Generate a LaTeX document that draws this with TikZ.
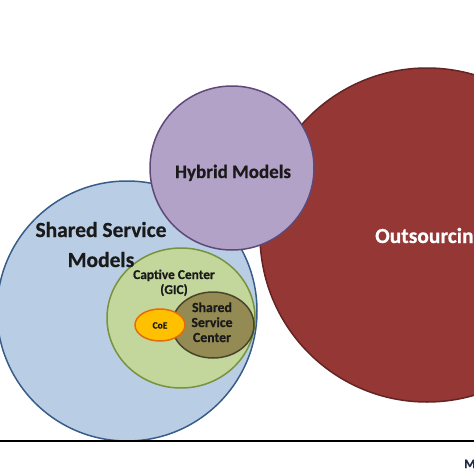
\documentclass[tikz,border=0pt]{standalone}
\usepackage{fontspec}
\setmainfont{Carlito}[BoldFeatures={FakeBold=0.6}]
\definecolor{bluefill}{HTML}{B9CDE5}
\definecolor{blueline}{HTML}{385D8A}
\definecolor{purplefill}{HTML}{B3A2C7}
\definecolor{purpleline}{HTML}{5F497A}
\definecolor{redfill}{HTML}{953735}
\definecolor{redline}{HTML}{632523}
\definecolor{greenfill}{HTML}{C3D69B}
\definecolor{greenline}{HTML}{77933C}
\definecolor{olivefill}{HTML}{948A54}
\definecolor{oliveline}{HTML}{4A452A}
\definecolor{coefill}{HTML}{FFC000}
\definecolor{coeline}{HTML}{E46C0A}
\definecolor{txt}{HTML}{1A1A1A}
\definecolor{navytxt}{HTML}{1F2A44}
\tikzset{
  blob/.style={line width=1.5pt},
  lbl/.style={font=\bfseries, text=txt, align=center, inner sep=0pt},
}
\begin{document}
\begin{tikzpicture}[x=1pt,y=-1pt]
\useasboundingbox (0,0) rectangle (474,474);
\clip (0,0) rectangle (474,474);
\fill[white] (0,0) rectangle (474,474);
% outsourcing
\draw[blob, fill=redfill, draw=redline] (427,235) circle[radius=167];
% shared service models
\draw[blob, fill=bluefill, draw=blueline] (127,311) circle[radius=130];
% captive center
\draw[blob, fill=greenfill, draw=greenline] (181,318) ellipse[x radius=74, y radius=70];
% shared service center
\draw[blob, fill=olivefill, draw=oliveline] (213,325) ellipse[x radius=41, y radius=33];
% CoE
\draw[blob, fill=coefill, draw=coeline] (160,325) ellipse[x radius=25, y radius=16];
% hybrid
\draw[blob, fill=purplefill, draw=purpleline] (232,168) circle[radius=82];
% axis line
\coordinate (axl) at (0,441);
\coordinate (axr) at (474,441);
\draw[line width=1.5pt, black] (axl) -- (axr);
% labels
\node[lbl, font=\fontsize{21.5}{30}\selectfont\bfseries, anchor=base] (ssm) at (101,267) {Shared Service\\Models};
\node[lbl, font=\fontsize{19}{23}\selectfont\bfseries, anchor=base] (hyb) at (233,178) {Hybrid Models};
\node[lbl, font=\fontsize{21.5}{26}\selectfont\bfseries, text=white, anchor=base west] (out) at (375,243) {Outsourcing};
\node[lbl, font=\fontsize{13.4}{15}\selectfont\bfseries, anchor=base] (gic) at (174,294) {Captive Center\\(GIC)};
\node[lbl, font=\fontsize{13.8}{15}\selectfont\bfseries, anchor=base] (ssc) at (212,342) {Shared\\Service\\Center};
\node[lbl, font=\fontsize{9.5}{11}\selectfont\bfseries, anchor=base] (coe) at (160,328.5) {CoE};
\node[lbl, font=\fontsize{13}{14}\selectfont\bfseries, text=navytxt, anchor=base west] (m) at (464,468) {M};
\end{tikzpicture}
\end{document}
